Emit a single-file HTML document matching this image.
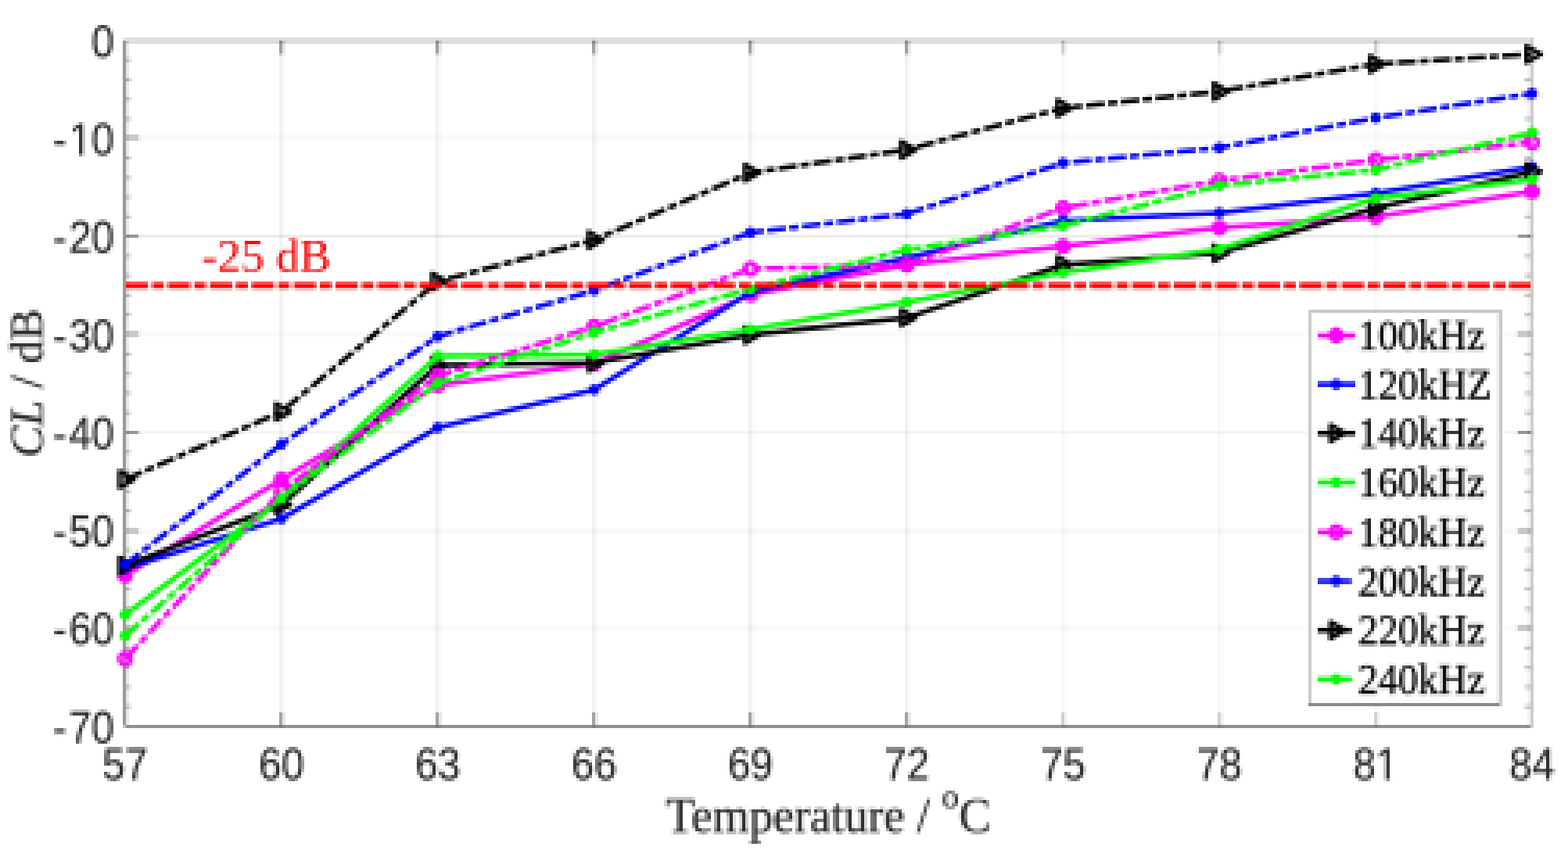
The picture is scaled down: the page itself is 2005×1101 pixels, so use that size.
<!DOCTYPE html>
<html lang="en">
<head>
<meta charset="utf-8">
<title>CL vs Temperature</title>
<style>
html,body{margin:0;padding:0;background:#ffffff;}
body{width:2005px;height:1101px;overflow:hidden;}
svg{display:block;}
</style>
</head>
<body>
<svg width="2005" height="1101" viewBox="0 0 2005 1101" role="img" aria-label="CL versus temperature for eight frequencies">
<defs>
<filter id="pix" filterUnits="userSpaceOnUse" x="0" y="0" width="2005" height="1101" color-interpolation-filters="sRGB">
<feConvolveMatrix in="SourceGraphic" order="4 1" kernelMatrix="1 1 1 1" divisor="4" targetX="1" targetY="0" edgeMode="duplicate" preserveAlpha="true" result="avgh"/>
<feConvolveMatrix in="avgh" order="1 4" kernelMatrix="1 1 1 1" divisor="4" targetX="0" targetY="1" edgeMode="duplicate" preserveAlpha="true" result="avg"/>
<feFlood x="2" y="1" width="1" height="1" flood-color="#000" result="dotA"/>
<feOffset in="dotA" dx="0" dy="0" x="1" y="0" width="4" height="4" result="cellA"/>
<feTile in="cellA" x="0" y="0" width="2005" height="419" result="maskA"/>
<feFlood x="2" y="420" width="1" height="1" flood-color="#000" result="dotB"/>
<feOffset in="dotB" dx="0" dy="0" x="1" y="419" width="4" height="4" result="cellB"/>
<feTile in="cellB" x="0" y="419" width="2005" height="682" result="maskB"/>
<feMerge result="mask"><feMergeNode in="maskA"/><feMergeNode in="maskB"/></feMerge>
<feComposite in="avg" in2="mask" operator="in" result="samp"/>
<feConvolveMatrix in="samp" order="4 1" kernelMatrix="1 1 1 1" divisor="1" targetX="2" targetY="0" edgeMode="none" preserveAlpha="false" result="gh"/>
<feConvolveMatrix in="gh" order="1 4" kernelMatrix="1 1 1 1" divisor="1" targetX="0" targetY="2" edgeMode="none" preserveAlpha="false" result="gv"/>
<feOffset in="gh" dx="0" dy="-1" x="0" y="419" width="2005" height="1" result="fix"/>
<feMerge><feMergeNode in="SourceGraphic"/><feMergeNode in="gv"/><feMergeNode in="fix"/></feMerge>
</filter>
</defs>
<g filter="url(#pix)">
<rect x="0" y="0" width="2005" height="1101" fill="#ffffff"/>
<g id="grid">
<rect x="357" y="56" width="4" height="871" fill="#f1f1f1"/>
<rect x="361" y="56" width="4" height="871" fill="#fbfbfb"/>
<rect x="557" y="56" width="4" height="871" fill="#f1f1f1"/>
<rect x="561" y="56" width="4" height="871" fill="#fbfbfb"/>
<rect x="757" y="56" width="4" height="871" fill="#f1f1f1"/>
<rect x="761" y="56" width="4" height="871" fill="#fbfbfb"/>
<rect x="957" y="56" width="4" height="871" fill="#f1f1f1"/>
<rect x="961" y="56" width="4" height="871" fill="#fbfbfb"/>
<rect x="1157" y="56" width="4" height="871" fill="#f1f1f1"/>
<rect x="1161" y="56" width="4" height="871" fill="#fbfbfb"/>
<rect x="1357" y="56" width="4" height="871" fill="#f8f8f8"/>
<rect x="1361" y="56" width="4" height="871" fill="#fdfdfd"/>
<rect x="1557" y="56" width="4" height="871" fill="#f8f8f8"/>
<rect x="1561" y="56" width="4" height="871" fill="#fdfdfd"/>
<rect x="1757" y="56" width="4" height="871" fill="#f8f8f8"/>
<rect x="1761" y="56" width="4" height="871" fill="#fdfdfd"/>
<rect x="165" y="172" width="1788" height="8" fill="#000000" fill-opacity="0.02"/>
<rect x="165" y="300" width="1788" height="4" fill="#000000" fill-opacity="0.067"/>
<rect x="165" y="423" width="1788" height="8" fill="#000000" fill-opacity="0.02"/>
<rect x="165" y="551" width="1788" height="4" fill="#000000" fill-opacity="0.035"/>
<rect x="165" y="675" width="1788" height="8" fill="#000000" fill-opacity="0.02"/>
<rect x="165" y="799" width="1788" height="8" fill="#000000" fill-opacity="0.02"/>
</g>
<g id="axes">
<rect x="161" y="48" width="1800" height="8" fill="#dedede"/>
<rect x="157" y="48" width="4" height="4" fill="#e8e8e8"/>
<rect x="161" y="52" width="4" height="4" fill="#c4c4c4"/>
<rect x="1957" y="48" width="4" height="883" fill="#cecece"/>
<rect x="1953" y="56" width="4" height="871" fill="#f2f2f2"/>
<rect x="157" y="52" width="4" height="875" fill="#999999"/>
<rect x="161" y="56" width="4" height="871" fill="#e8e8e8"/>
<rect x="161" y="927" width="1796" height="4" fill="#909090"/>
<rect x="157" y="927" width="4" height="4" fill="#c0c0c0"/>
<rect x="357" y="911" width="4" height="16" fill="#a2a2a2"/>
<rect x="361" y="911" width="4" height="16" fill="#e6e6e6"/>
<rect x="357" y="927" width="4" height="4" fill="#7c7c7c"/>
<rect x="361" y="927" width="4" height="4" fill="#8a8a8a"/>
<rect x="357" y="48" width="4" height="4" fill="#d6d6d6"/>
<rect x="357" y="52" width="4" height="4" fill="#888888"/>
<rect x="361" y="52" width="4" height="4" fill="#c4c4c4"/>
<rect x="357" y="56" width="4" height="12" fill="#a0a0a0"/>
<rect x="361" y="56" width="4" height="12" fill="#e6e6e6"/>
<rect x="357" y="68" width="4" height="4" fill="#d0d0d0"/>
<rect x="361" y="68" width="4" height="4" fill="#f0f0f0"/>
<rect x="557" y="911" width="4" height="16" fill="#a2a2a2"/>
<rect x="561" y="911" width="4" height="16" fill="#e6e6e6"/>
<rect x="557" y="927" width="4" height="4" fill="#7c7c7c"/>
<rect x="561" y="927" width="4" height="4" fill="#8a8a8a"/>
<rect x="557" y="48" width="4" height="4" fill="#d6d6d6"/>
<rect x="557" y="52" width="4" height="4" fill="#888888"/>
<rect x="561" y="52" width="4" height="4" fill="#c4c4c4"/>
<rect x="557" y="56" width="4" height="12" fill="#a0a0a0"/>
<rect x="561" y="56" width="4" height="12" fill="#e6e6e6"/>
<rect x="557" y="68" width="4" height="4" fill="#d0d0d0"/>
<rect x="561" y="68" width="4" height="4" fill="#f0f0f0"/>
<rect x="757" y="911" width="4" height="16" fill="#a2a2a2"/>
<rect x="761" y="911" width="4" height="16" fill="#e6e6e6"/>
<rect x="757" y="927" width="4" height="4" fill="#7c7c7c"/>
<rect x="761" y="927" width="4" height="4" fill="#8a8a8a"/>
<rect x="757" y="48" width="4" height="4" fill="#d6d6d6"/>
<rect x="757" y="52" width="4" height="4" fill="#888888"/>
<rect x="761" y="52" width="4" height="4" fill="#c4c4c4"/>
<rect x="757" y="56" width="4" height="12" fill="#a0a0a0"/>
<rect x="761" y="56" width="4" height="12" fill="#e6e6e6"/>
<rect x="757" y="68" width="4" height="4" fill="#d0d0d0"/>
<rect x="761" y="68" width="4" height="4" fill="#f0f0f0"/>
<rect x="957" y="911" width="4" height="16" fill="#a2a2a2"/>
<rect x="961" y="911" width="4" height="16" fill="#e6e6e6"/>
<rect x="957" y="927" width="4" height="4" fill="#7c7c7c"/>
<rect x="961" y="927" width="4" height="4" fill="#8a8a8a"/>
<rect x="957" y="48" width="4" height="4" fill="#d6d6d6"/>
<rect x="957" y="52" width="4" height="4" fill="#888888"/>
<rect x="961" y="52" width="4" height="4" fill="#c4c4c4"/>
<rect x="957" y="56" width="4" height="12" fill="#a0a0a0"/>
<rect x="961" y="56" width="4" height="12" fill="#e6e6e6"/>
<rect x="957" y="68" width="4" height="4" fill="#d0d0d0"/>
<rect x="961" y="68" width="4" height="4" fill="#f0f0f0"/>
<rect x="1157" y="911" width="4" height="16" fill="#a2a2a2"/>
<rect x="1161" y="911" width="4" height="16" fill="#e6e6e6"/>
<rect x="1157" y="927" width="4" height="4" fill="#7c7c7c"/>
<rect x="1161" y="927" width="4" height="4" fill="#8a8a8a"/>
<rect x="1157" y="48" width="4" height="4" fill="#d6d6d6"/>
<rect x="1157" y="52" width="4" height="4" fill="#888888"/>
<rect x="1161" y="52" width="4" height="4" fill="#c4c4c4"/>
<rect x="1157" y="56" width="4" height="12" fill="#a0a0a0"/>
<rect x="1161" y="56" width="4" height="12" fill="#e6e6e6"/>
<rect x="1157" y="68" width="4" height="4" fill="#d0d0d0"/>
<rect x="1161" y="68" width="4" height="4" fill="#f0f0f0"/>
<rect x="1357" y="911" width="4" height="16" fill="#d0d0d0"/>
<rect x="1361" y="911" width="4" height="16" fill="#f2f2f2"/>
<rect x="1357" y="927" width="4" height="4" fill="#848484"/>
<rect x="1361" y="927" width="4" height="4" fill="#8c8c8c"/>
<rect x="1357" y="52" width="4" height="4" fill="#b0b0b0"/>
<rect x="1361" y="52" width="4" height="4" fill="#d2d2d2"/>
<rect x="1357" y="56" width="4" height="12" fill="#d0d0d0"/>
<rect x="1361" y="56" width="4" height="12" fill="#f2f2f2"/>
<rect x="1357" y="68" width="4" height="4" fill="#e8e8e8"/>
<rect x="1361" y="68" width="4" height="4" fill="#f8f8f8"/>
<rect x="1557" y="911" width="4" height="16" fill="#d0d0d0"/>
<rect x="1561" y="911" width="4" height="16" fill="#f2f2f2"/>
<rect x="1557" y="927" width="4" height="4" fill="#848484"/>
<rect x="1561" y="927" width="4" height="4" fill="#8c8c8c"/>
<rect x="1557" y="52" width="4" height="4" fill="#b0b0b0"/>
<rect x="1561" y="52" width="4" height="4" fill="#d2d2d2"/>
<rect x="1557" y="56" width="4" height="12" fill="#d0d0d0"/>
<rect x="1561" y="56" width="4" height="12" fill="#f2f2f2"/>
<rect x="1557" y="68" width="4" height="4" fill="#e8e8e8"/>
<rect x="1561" y="68" width="4" height="4" fill="#f8f8f8"/>
<rect x="1757" y="911" width="4" height="16" fill="#d0d0d0"/>
<rect x="1761" y="911" width="4" height="16" fill="#f2f2f2"/>
<rect x="1757" y="927" width="4" height="4" fill="#848484"/>
<rect x="1761" y="927" width="4" height="4" fill="#8c8c8c"/>
<rect x="1757" y="52" width="4" height="4" fill="#b0b0b0"/>
<rect x="1761" y="52" width="4" height="4" fill="#d2d2d2"/>
<rect x="1757" y="56" width="4" height="12" fill="#d0d0d0"/>
<rect x="1761" y="56" width="4" height="12" fill="#f2f2f2"/>
<rect x="1757" y="68" width="4" height="4" fill="#e8e8e8"/>
<rect x="1761" y="68" width="4" height="4" fill="#f8f8f8"/>
<rect x="161" y="901.743" width="4" height="4" fill="#aaaaaa"/>
<rect x="165" y="901.743" width="4" height="4" fill="#dddddd"/>
<rect x="1949" y="901.743" width="4" height="4" fill="#cccccc"/>
<rect x="1953" y="901.743" width="4" height="4" fill="#b8b8b8"/>
<rect x="1957" y="901.743" width="4" height="4" fill="#c6c6c6"/>
<rect x="161" y="876.686" width="4" height="4" fill="#aaaaaa"/>
<rect x="165" y="876.686" width="4" height="4" fill="#dddddd"/>
<rect x="1949" y="876.686" width="4" height="4" fill="#cccccc"/>
<rect x="1953" y="876.686" width="4" height="4" fill="#b8b8b8"/>
<rect x="1957" y="876.686" width="4" height="4" fill="#c6c6c6"/>
<rect x="161" y="851.629" width="4" height="4" fill="#aaaaaa"/>
<rect x="165" y="851.629" width="4" height="4" fill="#dddddd"/>
<rect x="1949" y="851.629" width="4" height="4" fill="#cccccc"/>
<rect x="1953" y="851.629" width="4" height="4" fill="#b8b8b8"/>
<rect x="1957" y="851.629" width="4" height="4" fill="#c6c6c6"/>
<rect x="161" y="826.571" width="4" height="4" fill="#aaaaaa"/>
<rect x="165" y="826.571" width="4" height="4" fill="#dddddd"/>
<rect x="1949" y="826.571" width="4" height="4" fill="#cccccc"/>
<rect x="1953" y="826.571" width="4" height="4" fill="#b8b8b8"/>
<rect x="1957" y="826.571" width="4" height="4" fill="#c6c6c6"/>
<rect x="161" y="801" width="4" height="4" fill="#8a8a8a"/>
<rect x="165" y="801" width="12" height="4" fill="#969696"/>
<rect x="177" y="801" width="4" height="4" fill="#e8e8e8"/>
<rect x="1937" y="801" width="4" height="4" fill="#e8e8e8"/>
<rect x="1941" y="801" width="12" height="4" fill="#969696"/>
<rect x="1953" y="801" width="4" height="4" fill="#808080"/>
<rect x="1957" y="801" width="4" height="4" fill="#b8b8b8"/>
<rect x="161" y="776.457" width="4" height="4" fill="#aaaaaa"/>
<rect x="165" y="776.457" width="4" height="4" fill="#dddddd"/>
<rect x="1949" y="776.457" width="4" height="4" fill="#cccccc"/>
<rect x="1953" y="776.457" width="4" height="4" fill="#b8b8b8"/>
<rect x="1957" y="776.457" width="4" height="4" fill="#c6c6c6"/>
<rect x="161" y="751.4" width="4" height="4" fill="#aaaaaa"/>
<rect x="165" y="751.4" width="4" height="4" fill="#dddddd"/>
<rect x="1949" y="751.4" width="4" height="4" fill="#cccccc"/>
<rect x="1953" y="751.4" width="4" height="4" fill="#b8b8b8"/>
<rect x="1957" y="751.4" width="4" height="4" fill="#c6c6c6"/>
<rect x="161" y="726.343" width="4" height="4" fill="#aaaaaa"/>
<rect x="165" y="726.343" width="4" height="4" fill="#dddddd"/>
<rect x="1949" y="726.343" width="4" height="4" fill="#cccccc"/>
<rect x="1953" y="726.343" width="4" height="4" fill="#b8b8b8"/>
<rect x="1957" y="726.343" width="4" height="4" fill="#c6c6c6"/>
<rect x="161" y="701.286" width="4" height="4" fill="#aaaaaa"/>
<rect x="165" y="701.286" width="4" height="4" fill="#dddddd"/>
<rect x="1949" y="701.286" width="4" height="4" fill="#cccccc"/>
<rect x="1953" y="701.286" width="4" height="4" fill="#b8b8b8"/>
<rect x="1957" y="701.286" width="4" height="4" fill="#c6c6c6"/>
<rect x="161" y="677" width="4" height="4" fill="#8a8a8a"/>
<rect x="165" y="677" width="12" height="4" fill="#969696"/>
<rect x="177" y="677" width="4" height="4" fill="#e8e8e8"/>
<rect x="1937" y="677" width="4" height="4" fill="#e8e8e8"/>
<rect x="1941" y="677" width="12" height="4" fill="#969696"/>
<rect x="1953" y="677" width="4" height="4" fill="#808080"/>
<rect x="1957" y="677" width="4" height="4" fill="#b8b8b8"/>
<rect x="161" y="651.171" width="4" height="4" fill="#aaaaaa"/>
<rect x="165" y="651.171" width="4" height="4" fill="#dddddd"/>
<rect x="1949" y="651.171" width="4" height="4" fill="#cccccc"/>
<rect x="1953" y="651.171" width="4" height="4" fill="#b8b8b8"/>
<rect x="1957" y="651.171" width="4" height="4" fill="#c6c6c6"/>
<rect x="161" y="626.114" width="4" height="4" fill="#aaaaaa"/>
<rect x="165" y="626.114" width="4" height="4" fill="#dddddd"/>
<rect x="1949" y="626.114" width="4" height="4" fill="#cccccc"/>
<rect x="1953" y="626.114" width="4" height="4" fill="#b8b8b8"/>
<rect x="1957" y="626.114" width="4" height="4" fill="#c6c6c6"/>
<rect x="161" y="601.057" width="4" height="4" fill="#aaaaaa"/>
<rect x="165" y="601.057" width="4" height="4" fill="#dddddd"/>
<rect x="1949" y="601.057" width="4" height="4" fill="#cccccc"/>
<rect x="1953" y="601.057" width="4" height="4" fill="#b8b8b8"/>
<rect x="1957" y="601.057" width="4" height="4" fill="#c6c6c6"/>
<rect x="161" y="576" width="4" height="4" fill="#aaaaaa"/>
<rect x="165" y="576" width="4" height="4" fill="#dddddd"/>
<rect x="1949" y="576" width="4" height="4" fill="#cccccc"/>
<rect x="1953" y="576" width="4" height="4" fill="#b8b8b8"/>
<rect x="1957" y="576" width="4" height="4" fill="#c6c6c6"/>
<rect x="161" y="551" width="4" height="4" fill="#8a8a8a"/>
<rect x="165" y="551" width="12" height="4" fill="#969696"/>
<rect x="177" y="551" width="4" height="4" fill="#e8e8e8"/>
<rect x="1937" y="551" width="4" height="4" fill="#e8e8e8"/>
<rect x="1941" y="551" width="12" height="4" fill="#969696"/>
<rect x="1953" y="551" width="4" height="4" fill="#808080"/>
<rect x="1957" y="551" width="4" height="4" fill="#b8b8b8"/>
<rect x="161" y="525.886" width="4" height="4" fill="#aaaaaa"/>
<rect x="165" y="525.886" width="4" height="4" fill="#dddddd"/>
<rect x="1949" y="525.886" width="4" height="4" fill="#cccccc"/>
<rect x="1953" y="525.886" width="4" height="4" fill="#b8b8b8"/>
<rect x="1957" y="525.886" width="4" height="4" fill="#c6c6c6"/>
<rect x="161" y="500.829" width="4" height="4" fill="#aaaaaa"/>
<rect x="165" y="500.829" width="4" height="4" fill="#dddddd"/>
<rect x="1949" y="500.829" width="4" height="4" fill="#cccccc"/>
<rect x="1953" y="500.829" width="4" height="4" fill="#b8b8b8"/>
<rect x="1957" y="500.829" width="4" height="4" fill="#c6c6c6"/>
<rect x="161" y="475.771" width="4" height="4" fill="#aaaaaa"/>
<rect x="165" y="475.771" width="4" height="4" fill="#dddddd"/>
<rect x="1949" y="475.771" width="4" height="4" fill="#cccccc"/>
<rect x="1953" y="475.771" width="4" height="4" fill="#b8b8b8"/>
<rect x="1957" y="475.771" width="4" height="4" fill="#c6c6c6"/>
<rect x="161" y="450.714" width="4" height="4" fill="#aaaaaa"/>
<rect x="165" y="450.714" width="4" height="4" fill="#dddddd"/>
<rect x="1949" y="450.714" width="4" height="4" fill="#cccccc"/>
<rect x="1953" y="450.714" width="4" height="4" fill="#b8b8b8"/>
<rect x="1957" y="450.714" width="4" height="4" fill="#c6c6c6"/>
<rect x="161" y="425" width="4" height="4" fill="#8a8a8a"/>
<rect x="165" y="425" width="12" height="4" fill="#969696"/>
<rect x="177" y="425" width="4" height="4" fill="#e8e8e8"/>
<rect x="1937" y="425" width="4" height="4" fill="#e8e8e8"/>
<rect x="1941" y="425" width="12" height="4" fill="#969696"/>
<rect x="1953" y="425" width="4" height="4" fill="#808080"/>
<rect x="1957" y="425" width="4" height="4" fill="#b8b8b8"/>
<rect x="161" y="400.6" width="4" height="4" fill="#aaaaaa"/>
<rect x="165" y="400.6" width="4" height="4" fill="#dddddd"/>
<rect x="1949" y="400.6" width="4" height="4" fill="#cccccc"/>
<rect x="1953" y="400.6" width="4" height="4" fill="#b8b8b8"/>
<rect x="1957" y="400.6" width="4" height="4" fill="#c6c6c6"/>
<rect x="161" y="375.543" width="4" height="4" fill="#aaaaaa"/>
<rect x="165" y="375.543" width="4" height="4" fill="#dddddd"/>
<rect x="1949" y="375.543" width="4" height="4" fill="#cccccc"/>
<rect x="1953" y="375.543" width="4" height="4" fill="#b8b8b8"/>
<rect x="1957" y="375.543" width="4" height="4" fill="#c6c6c6"/>
<rect x="161" y="350.486" width="4" height="4" fill="#aaaaaa"/>
<rect x="165" y="350.486" width="4" height="4" fill="#dddddd"/>
<rect x="1949" y="350.486" width="4" height="4" fill="#cccccc"/>
<rect x="1953" y="350.486" width="4" height="4" fill="#b8b8b8"/>
<rect x="1957" y="350.486" width="4" height="4" fill="#c6c6c6"/>
<rect x="161" y="325.429" width="4" height="4" fill="#aaaaaa"/>
<rect x="165" y="325.429" width="4" height="4" fill="#dddddd"/>
<rect x="1949" y="325.429" width="4" height="4" fill="#cccccc"/>
<rect x="1953" y="325.429" width="4" height="4" fill="#b8b8b8"/>
<rect x="1957" y="325.429" width="4" height="4" fill="#c6c6c6"/>
<rect x="161" y="300" width="4" height="4" fill="#8a8a8a"/>
<rect x="165" y="300" width="12" height="4" fill="#969696"/>
<rect x="177" y="300" width="4" height="4" fill="#e8e8e8"/>
<rect x="1937" y="300" width="4" height="4" fill="#e8e8e8"/>
<rect x="1941" y="300" width="12" height="4" fill="#969696"/>
<rect x="1953" y="300" width="4" height="4" fill="#808080"/>
<rect x="1957" y="300" width="4" height="4" fill="#b8b8b8"/>
<rect x="161" y="275.314" width="4" height="4" fill="#aaaaaa"/>
<rect x="165" y="275.314" width="4" height="4" fill="#dddddd"/>
<rect x="1949" y="275.314" width="4" height="4" fill="#cccccc"/>
<rect x="1953" y="275.314" width="4" height="4" fill="#b8b8b8"/>
<rect x="1957" y="275.314" width="4" height="4" fill="#c6c6c6"/>
<rect x="161" y="250.257" width="4" height="4" fill="#aaaaaa"/>
<rect x="165" y="250.257" width="4" height="4" fill="#dddddd"/>
<rect x="1949" y="250.257" width="4" height="4" fill="#cccccc"/>
<rect x="1953" y="250.257" width="4" height="4" fill="#b8b8b8"/>
<rect x="1957" y="250.257" width="4" height="4" fill="#c6c6c6"/>
<rect x="161" y="225.2" width="4" height="4" fill="#aaaaaa"/>
<rect x="165" y="225.2" width="4" height="4" fill="#dddddd"/>
<rect x="1949" y="225.2" width="4" height="4" fill="#cccccc"/>
<rect x="1953" y="225.2" width="4" height="4" fill="#b8b8b8"/>
<rect x="1957" y="225.2" width="4" height="4" fill="#c6c6c6"/>
<rect x="161" y="200.143" width="4" height="4" fill="#aaaaaa"/>
<rect x="165" y="200.143" width="4" height="4" fill="#dddddd"/>
<rect x="1949" y="200.143" width="4" height="4" fill="#cccccc"/>
<rect x="1953" y="200.143" width="4" height="4" fill="#b8b8b8"/>
<rect x="1957" y="200.143" width="4" height="4" fill="#c6c6c6"/>
<rect x="161" y="174" width="4" height="4" fill="#8a8a8a"/>
<rect x="165" y="174" width="12" height="4" fill="#969696"/>
<rect x="177" y="174" width="4" height="4" fill="#e8e8e8"/>
<rect x="1937" y="174" width="4" height="4" fill="#e8e8e8"/>
<rect x="1941" y="174" width="12" height="4" fill="#969696"/>
<rect x="1953" y="174" width="4" height="4" fill="#808080"/>
<rect x="1957" y="174" width="4" height="4" fill="#b8b8b8"/>
<rect x="161" y="150.029" width="4" height="4" fill="#aaaaaa"/>
<rect x="165" y="150.029" width="4" height="4" fill="#dddddd"/>
<rect x="1949" y="150.029" width="4" height="4" fill="#cccccc"/>
<rect x="1953" y="150.029" width="4" height="4" fill="#b8b8b8"/>
<rect x="1957" y="150.029" width="4" height="4" fill="#c6c6c6"/>
<rect x="161" y="124.971" width="4" height="4" fill="#aaaaaa"/>
<rect x="165" y="124.971" width="4" height="4" fill="#dddddd"/>
<rect x="1949" y="124.971" width="4" height="4" fill="#cccccc"/>
<rect x="1953" y="124.971" width="4" height="4" fill="#b8b8b8"/>
<rect x="1957" y="124.971" width="4" height="4" fill="#c6c6c6"/>
<rect x="161" y="99.9143" width="4" height="4" fill="#aaaaaa"/>
<rect x="165" y="99.9143" width="4" height="4" fill="#dddddd"/>
<rect x="1949" y="99.9143" width="4" height="4" fill="#cccccc"/>
<rect x="1953" y="99.9143" width="4" height="4" fill="#b8b8b8"/>
<rect x="1957" y="99.9143" width="4" height="4" fill="#c6c6c6"/>
<rect x="161" y="74.8571" width="4" height="4" fill="#aaaaaa"/>
<rect x="165" y="74.8571" width="4" height="4" fill="#dddddd"/>
<rect x="1949" y="74.8571" width="4" height="4" fill="#cccccc"/>
<rect x="1953" y="74.8571" width="4" height="4" fill="#b8b8b8"/>
<rect x="1957" y="74.8571" width="4" height="4" fill="#c6c6c6"/>
</g>
<g id="data" fill="none" stroke-linejoin="round">
<polyline points="160.0,735.9 359.9,613.1 559.8,492.8 759.7,465.2 959.6,376.9 1159.4,338.7 1359.3,314.9 1559.2,291.1 1759.1,277.3 1959.0,244.7" stroke="#ff00ff" stroke-width="6.2"/>
<circle cx="160.0" cy="735.9" r="10.2" fill="#ff00ff"/>
<circle cx="359.9" cy="613.1" r="10.2" fill="#ff00ff"/>
<circle cx="559.8" cy="492.8" r="10.2" fill="#ff00ff"/>
<circle cx="759.7" cy="465.2" r="10.2" fill="#ff00ff"/>
<circle cx="959.6" cy="376.9" r="10.2" fill="#ff00ff"/>
<circle cx="1159.4" cy="338.7" r="10.2" fill="#ff00ff"/>
<circle cx="1359.3" cy="314.9" r="10.2" fill="#ff00ff"/>
<circle cx="1559.2" cy="291.1" r="10.2" fill="#ff00ff"/>
<circle cx="1759.1" cy="277.3" r="10.2" fill="#ff00ff"/>
<circle cx="1959.0" cy="244.7" r="10.2" fill="#ff00ff"/>
<polyline points="160.0,727.1 359.9,663.2 559.8,546.7 759.7,498.4 959.6,373.8 1159.4,329.9 1359.3,282.3 1559.2,272.3 1759.1,247.2 1959.0,213.4" stroke="#0000ff" stroke-width="6.2"/>
<circle cx="160.0" cy="727.1" r="7.0" fill="#0000ff"/>
<circle cx="359.9" cy="663.2" r="7.0" fill="#0000ff"/>
<circle cx="559.8" cy="546.7" r="7.0" fill="#0000ff"/>
<circle cx="759.7" cy="498.4" r="7.0" fill="#0000ff"/>
<circle cx="959.6" cy="373.8" r="7.0" fill="#0000ff"/>
<circle cx="1159.4" cy="329.9" r="7.0" fill="#0000ff"/>
<circle cx="1359.3" cy="282.3" r="7.0" fill="#0000ff"/>
<circle cx="1559.2" cy="272.3" r="7.0" fill="#0000ff"/>
<circle cx="1759.1" cy="247.2" r="7.0" fill="#0000ff"/>
<circle cx="1959.0" cy="213.4" r="7.0" fill="#0000ff"/>
<polyline points="160.0,723.3 359.9,645.7 559.8,467.1 759.7,464.0 959.6,428.3 1159.4,406.4 1359.3,338.7 1559.2,323.7 1759.1,266.0 1959.0,219.7" stroke="#000000" stroke-width="6.2"/>
<polygon points="153.0,712.8 171.5,723.3 153.0,733.8" fill="none" stroke="#000000" stroke-width="5.5" stroke-linejoin="round"/>
<polygon points="352.9,635.2 371.4,645.7 352.9,656.2" fill="none" stroke="#000000" stroke-width="5.5" stroke-linejoin="round"/>
<polygon points="552.8,456.6 571.3,467.1 552.8,477.6" fill="none" stroke="#000000" stroke-width="5.5" stroke-linejoin="round"/>
<polygon points="752.7,453.5 771.2,464.0 752.7,474.5" fill="none" stroke="#000000" stroke-width="5.5" stroke-linejoin="round"/>
<polygon points="952.6,417.8 971.1,428.3 952.6,438.8" fill="none" stroke="#000000" stroke-width="5.5" stroke-linejoin="round"/>
<polygon points="1152.4,395.9 1170.9,406.4 1152.4,416.9" fill="none" stroke="#000000" stroke-width="5.5" stroke-linejoin="round"/>
<polygon points="1352.3,328.2 1370.8,338.7 1352.3,349.2" fill="none" stroke="#000000" stroke-width="5.5" stroke-linejoin="round"/>
<polygon points="1552.2,313.2 1570.7,323.7 1552.2,334.2" fill="none" stroke="#000000" stroke-width="5.5" stroke-linejoin="round"/>
<polygon points="1752.1,255.5 1770.6,266.0 1752.1,276.5" fill="none" stroke="#000000" stroke-width="5.5" stroke-linejoin="round"/>
<polygon points="1952.0,209.2 1970.5,219.7 1952.0,230.2" fill="none" stroke="#000000" stroke-width="5.5" stroke-linejoin="round"/>
<polyline points="160.0,786.0 359.9,636.9 559.8,455.2 759.7,453.3 959.6,421.4 1159.4,386.3 1359.3,348.7 1559.2,318.7 1759.1,253.5 1959.0,229.7" stroke="#00ff00" stroke-width="6.2"/>
<circle cx="160.0" cy="786.0" r="7.0" fill="#00ff00"/>
<circle cx="359.9" cy="636.9" r="7.0" fill="#00ff00"/>
<circle cx="559.8" cy="455.2" r="7.0" fill="#00ff00"/>
<circle cx="759.7" cy="453.3" r="7.0" fill="#00ff00"/>
<circle cx="959.6" cy="421.4" r="7.0" fill="#00ff00"/>
<circle cx="1159.4" cy="386.3" r="7.0" fill="#00ff00"/>
<circle cx="1359.3" cy="348.7" r="7.0" fill="#00ff00"/>
<circle cx="1559.2" cy="318.7" r="7.0" fill="#00ff00"/>
<circle cx="1759.1" cy="253.5" r="7.0" fill="#00ff00"/>
<circle cx="1959.0" cy="229.7" r="7.0" fill="#00ff00"/>
<polyline points="160.0,842.4 359.9,628.1 559.8,480.3 759.7,417.6 959.6,343.7 1159.4,338.7 1359.3,266.0 1559.2,231.0 1759.1,204.6 1959.0,182.1" stroke="#ff00ff" stroke-width="6.2" stroke-dasharray="23.6 4.8 11.5 4.8"/>
<circle cx="160.0" cy="842.4" r="7.4" fill="none" stroke="#ff00ff" stroke-width="5.8"/>
<circle cx="359.9" cy="628.1" r="7.4" fill="none" stroke="#ff00ff" stroke-width="5.8"/>
<circle cx="559.8" cy="480.3" r="7.4" fill="none" stroke="#ff00ff" stroke-width="5.8"/>
<circle cx="759.7" cy="417.6" r="7.4" fill="none" stroke="#ff00ff" stroke-width="5.8"/>
<circle cx="959.6" cy="343.7" r="7.4" fill="none" stroke="#ff00ff" stroke-width="5.8"/>
<circle cx="1159.4" cy="338.7" r="7.4" fill="none" stroke="#ff00ff" stroke-width="5.8"/>
<circle cx="1359.3" cy="266.0" r="7.4" fill="none" stroke="#ff00ff" stroke-width="5.8"/>
<circle cx="1559.2" cy="231.0" r="7.4" fill="none" stroke="#ff00ff" stroke-width="5.8"/>
<circle cx="1759.1" cy="204.6" r="7.4" fill="none" stroke="#ff00ff" stroke-width="5.8"/>
<circle cx="1959.0" cy="182.1" r="7.4" fill="none" stroke="#ff00ff" stroke-width="5.8"/>
<polyline points="160.0,722.1 359.9,568.0 559.8,430.2 759.7,371.3 959.6,297.4 1159.4,273.6 1359.3,208.4 1559.2,189.0 1759.1,150.8 1959.0,119.5" stroke="#0000ff" stroke-width="6.2" stroke-dasharray="23.6 4.8 11.5 4.8"/>
<circle cx="160.0" cy="722.1" r="7.0" fill="#0000ff"/>
<circle cx="359.9" cy="568.0" r="7.0" fill="#0000ff"/>
<circle cx="559.8" cy="430.2" r="7.0" fill="#0000ff"/>
<circle cx="759.7" cy="371.3" r="7.0" fill="#0000ff"/>
<circle cx="959.6" cy="297.4" r="7.0" fill="#0000ff"/>
<circle cx="1159.4" cy="273.6" r="7.0" fill="#0000ff"/>
<circle cx="1359.3" cy="208.4" r="7.0" fill="#0000ff"/>
<circle cx="1559.2" cy="189.0" r="7.0" fill="#0000ff"/>
<circle cx="1759.1" cy="150.8" r="7.0" fill="#0000ff"/>
<circle cx="1959.0" cy="119.5" r="7.0" fill="#0000ff"/>
<polyline points="160.0,613.1 359.9,526.6 559.8,360.0 759.7,306.8 959.6,220.9 1159.4,191.5 1359.3,138.2 1559.2,116.9 1759.1,81.9 1959.0,69.3" stroke="#000000" stroke-width="6.2" stroke-dasharray="23.6 4.8 11.5 4.8"/>
<polygon points="153.0,602.6 171.5,613.1 153.0,623.6" fill="none" stroke="#000000" stroke-width="5.5" stroke-linejoin="round"/>
<polygon points="352.9,516.1 371.4,526.6 352.9,537.1" fill="none" stroke="#000000" stroke-width="5.5" stroke-linejoin="round"/>
<polygon points="552.8,349.5 571.3,360.0 552.8,370.5" fill="none" stroke="#000000" stroke-width="5.5" stroke-linejoin="round"/>
<polygon points="752.7,296.3 771.2,306.8 752.7,317.3" fill="none" stroke="#000000" stroke-width="5.5" stroke-linejoin="round"/>
<polygon points="952.6,210.4 971.1,220.9 952.6,231.4" fill="none" stroke="#000000" stroke-width="5.5" stroke-linejoin="round"/>
<polygon points="1152.4,181.0 1170.9,191.5 1152.4,202.0" fill="none" stroke="#000000" stroke-width="5.5" stroke-linejoin="round"/>
<polygon points="1352.3,127.7 1370.8,138.2 1352.3,148.7" fill="none" stroke="#000000" stroke-width="5.5" stroke-linejoin="round"/>
<polygon points="1552.2,106.4 1570.7,116.9 1552.2,127.4" fill="none" stroke="#000000" stroke-width="5.5" stroke-linejoin="round"/>
<polygon points="1752.1,71.4 1770.6,81.9 1752.1,92.4" fill="none" stroke="#000000" stroke-width="5.5" stroke-linejoin="round"/>
<polygon points="1952.0,58.8 1970.5,69.3 1952.0,79.8" fill="none" stroke="#000000" stroke-width="5.5" stroke-linejoin="round"/>
<polyline points="160.0,812.9 359.9,636.9 559.8,490.3 759.7,425.2 959.6,369.4 1159.4,319.3 1359.3,288.6 1559.2,237.2 1759.1,217.2 1959.0,169.6" stroke="#00ff00" stroke-width="6.2" stroke-dasharray="23.6 4.8 11.5 4.8"/>
<circle cx="160.0" cy="812.9" r="7.0" fill="#00ff00"/>
<circle cx="359.9" cy="636.9" r="7.0" fill="#00ff00"/>
<circle cx="559.8" cy="490.3" r="7.0" fill="#00ff00"/>
<circle cx="759.7" cy="425.2" r="7.0" fill="#00ff00"/>
<circle cx="959.6" cy="369.4" r="7.0" fill="#00ff00"/>
<circle cx="1159.4" cy="319.3" r="7.0" fill="#00ff00"/>
<circle cx="1359.3" cy="288.6" r="7.0" fill="#00ff00"/>
<circle cx="1559.2" cy="237.2" r="7.0" fill="#00ff00"/>
<circle cx="1759.1" cy="217.2" r="7.0" fill="#00ff00"/>
<circle cx="1959.0" cy="169.6" r="7.0" fill="#00ff00"/>
</g>
<g id="ref">
<line x1="161" y1="365.1" x2="1957" y2="365.1" stroke="#ff0000" stroke-width="7.7" stroke-dasharray="28.6 5 15 5" fill="none"/>
<text x="258" y="347" font-family="'Liberation Serif', serif" font-size="60" fill="#ff0000">-25 dB</text>
</g>
<g id="ticklabels" font-family="'Liberation Sans', sans-serif" font-size="52" fill="#303030" stroke="#303030" stroke-width="0.5">
<text transform="translate(160.0,997.2) scale(1,1.1)" text-anchor="middle">57</text>
<text transform="translate(359.9,997.2) scale(1,1.1)" text-anchor="middle">60</text>
<text transform="translate(559.8,997.2) scale(1,1.1)" text-anchor="middle">63</text>
<text transform="translate(759.7,997.2) scale(1,1.1)" text-anchor="middle">66</text>
<text transform="translate(959.6,997.2) scale(1,1.1)" text-anchor="middle">69</text>
<text transform="translate(1159.4,997.2) scale(1,1.1)" text-anchor="middle">72</text>
<text transform="translate(1359.3,997.2) scale(1,1.1)" text-anchor="middle">75</text>
<text transform="translate(1559.2,997.2) scale(1,1.1)" text-anchor="middle">78</text>
<text transform="translate(1759.1,997.2) scale(1,1.1)" text-anchor="middle">81</text>
<text transform="translate(1959.0,997.2) scale(1,1.1)" text-anchor="middle">84</text>
<text transform="translate(146,72.6) scale(1,1.1)" text-anchor="end">0</text>
<text transform="translate(146,197.9) scale(1,1.1)" text-anchor="end">-<tspan dx="3">10</tspan></text>
<text transform="translate(146,323.2) scale(1,1.1)" text-anchor="end">-<tspan dx="3">20</tspan></text>
<text transform="translate(146,448.5) scale(1,1.1)" text-anchor="end">-<tspan dx="3">30</tspan></text>
<text transform="translate(146,573.7) scale(1,1.1)" text-anchor="end">-<tspan dx="3">40</tspan></text>
<text transform="translate(146,699.0) scale(1,1.1)" text-anchor="end">-<tspan dx="3">50</tspan></text>
<text transform="translate(146,824.3) scale(1,1.1)" text-anchor="end">-<tspan dx="3">60</tspan></text>
<text transform="translate(146,949.6) scale(1,1.1)" text-anchor="end">-<tspan dx="3">70</tspan></text>
</g>
<g id="one-foot" fill="#ffffff">
<rect x="90.5" y="192.7" width="10.4" height="6.1" fill="#ffffff"/>
<rect x="106.3" y="192.7" width="8.7" height="6.1" fill="#ffffff"/>
<rect x="1761.5" y="991.7" width="10.2" height="6.1" fill="#ffffff"/>
<rect x="1776.8" y="991.7" width="9.2" height="6.1" fill="#ffffff"/>
</g>
<g id="titles" font-family="'Liberation Serif', serif" font-size="60.7" fill="#303030" stroke="#303030" stroke-width="0.7">
<text transform="translate(1059,1064) scale(1,1.03)" text-anchor="middle">Temperature / <tspan font-size="44" dy="-30">o</tspan><tspan dy="30">C</tspan></text>
<text transform="translate(54,490) rotate(-90) scale(1.03,1)" font-size="58.2" text-anchor="middle"><tspan font-style="italic">CL</tspan> / dB</text>
</g>
<g id="legend">
<rect x="1675" y="398" width="244" height="503" fill="#ffffff"/>
<rect x="1673" y="396" width="248" height="4" fill="#c8c8c8"/>
<rect x="1673" y="396" width="4" height="507" fill="#cccccc"/>
<rect x="1917" y="396" width="4" height="507" fill="#c8c8c8"/>
<rect x="1913" y="400" width="4" height="499" fill="#f0f0f0"/>
<rect x="1673" y="899" width="244" height="4" fill="#888888"/>
<line x1="1685" y1="429.0" x2="1733" y2="429.0" stroke="#ff00ff" stroke-width="6.2"/>
<circle cx="1708.5" cy="429.0" r="10.2" fill="#ff00ff"/>
<text transform="translate(1736.5,447.4) scale(1,1.06)" font-family="'Liberation Serif', serif" font-size="51.3" fill="#101010" stroke="#101010" stroke-width="0.8">100kHz</text>
<line x1="1685" y1="491.4" x2="1733" y2="491.4" stroke="#0000ff" stroke-width="6.2"/>
<circle cx="1708.5" cy="491.4" r="7.0" fill="#0000ff"/>
<text transform="translate(1736.5,509.8) scale(1,1.06)" font-family="'Liberation Serif', serif" font-size="51.3" fill="#101010" stroke="#101010" stroke-width="0.8">120kHZ</text>
<line x1="1685" y1="553.9" x2="1733" y2="553.9" stroke="#000000" stroke-width="6.2"/>
<polygon points="1701.5,543.4 1720.0,553.9 1701.5,564.4" fill="none" stroke="#000000" stroke-width="5.5" stroke-linejoin="round"/>
<text transform="translate(1736.5,572.3) scale(1,1.06)" font-family="'Liberation Serif', serif" font-size="51.3" fill="#101010" stroke="#101010" stroke-width="0.8">140kHz</text>
<line x1="1685" y1="616.8" x2="1733" y2="616.8" stroke="#00ff00" stroke-width="6.2"/>
<circle cx="1708.5" cy="616.8" r="7.0" fill="#00ff00"/>
<text transform="translate(1736.5,635.2) scale(1,1.06)" font-family="'Liberation Serif', serif" font-size="51.3" fill="#101010" stroke="#101010" stroke-width="0.8">160kHz</text>
<line x1="1685" y1="680.4" x2="1728.3" y2="680.4" stroke="#ff00ff" stroke-width="6.2"/>
<circle cx="1708.5" cy="680.4" r="7.4" fill="none" stroke="#ff00ff" stroke-width="5.8"/>
<text transform="translate(1736.5,698.8) scale(1,1.06)" font-family="'Liberation Serif', serif" font-size="51.3" fill="#101010" stroke="#101010" stroke-width="0.8">180kHz</text>
<line x1="1685" y1="743.1" x2="1728.3" y2="743.1" stroke="#0000ff" stroke-width="6.2"/>
<circle cx="1708.5" cy="743.1" r="7.0" fill="#0000ff"/>
<text transform="translate(1736.5,761.5) scale(1,1.06)" font-family="'Liberation Serif', serif" font-size="51.3" fill="#101010" stroke="#101010" stroke-width="0.8">200kHz</text>
<line x1="1685" y1="805.9" x2="1728.3" y2="805.9" stroke="#000000" stroke-width="6.2"/>
<polygon points="1701.5,795.4 1720.0,805.9 1701.5,816.4" fill="none" stroke="#000000" stroke-width="5.5" stroke-linejoin="round"/>
<text transform="translate(1736.5,824.3) scale(1,1.06)" font-family="'Liberation Serif', serif" font-size="51.3" fill="#101010" stroke="#101010" stroke-width="0.8">220kHz</text>
<line x1="1685" y1="868.5" x2="1728.3" y2="868.5" stroke="#00ff00" stroke-width="6.2"/>
<circle cx="1708.5" cy="868.5" r="7.0" fill="#00ff00"/>
<text transform="translate(1736.5,886.9) scale(1,1.06)" font-family="'Liberation Serif', serif" font-size="51.3" fill="#101010" stroke="#101010" stroke-width="0.8">240kHz</text>
</g>
</g>
</svg>
</body>
</html>
